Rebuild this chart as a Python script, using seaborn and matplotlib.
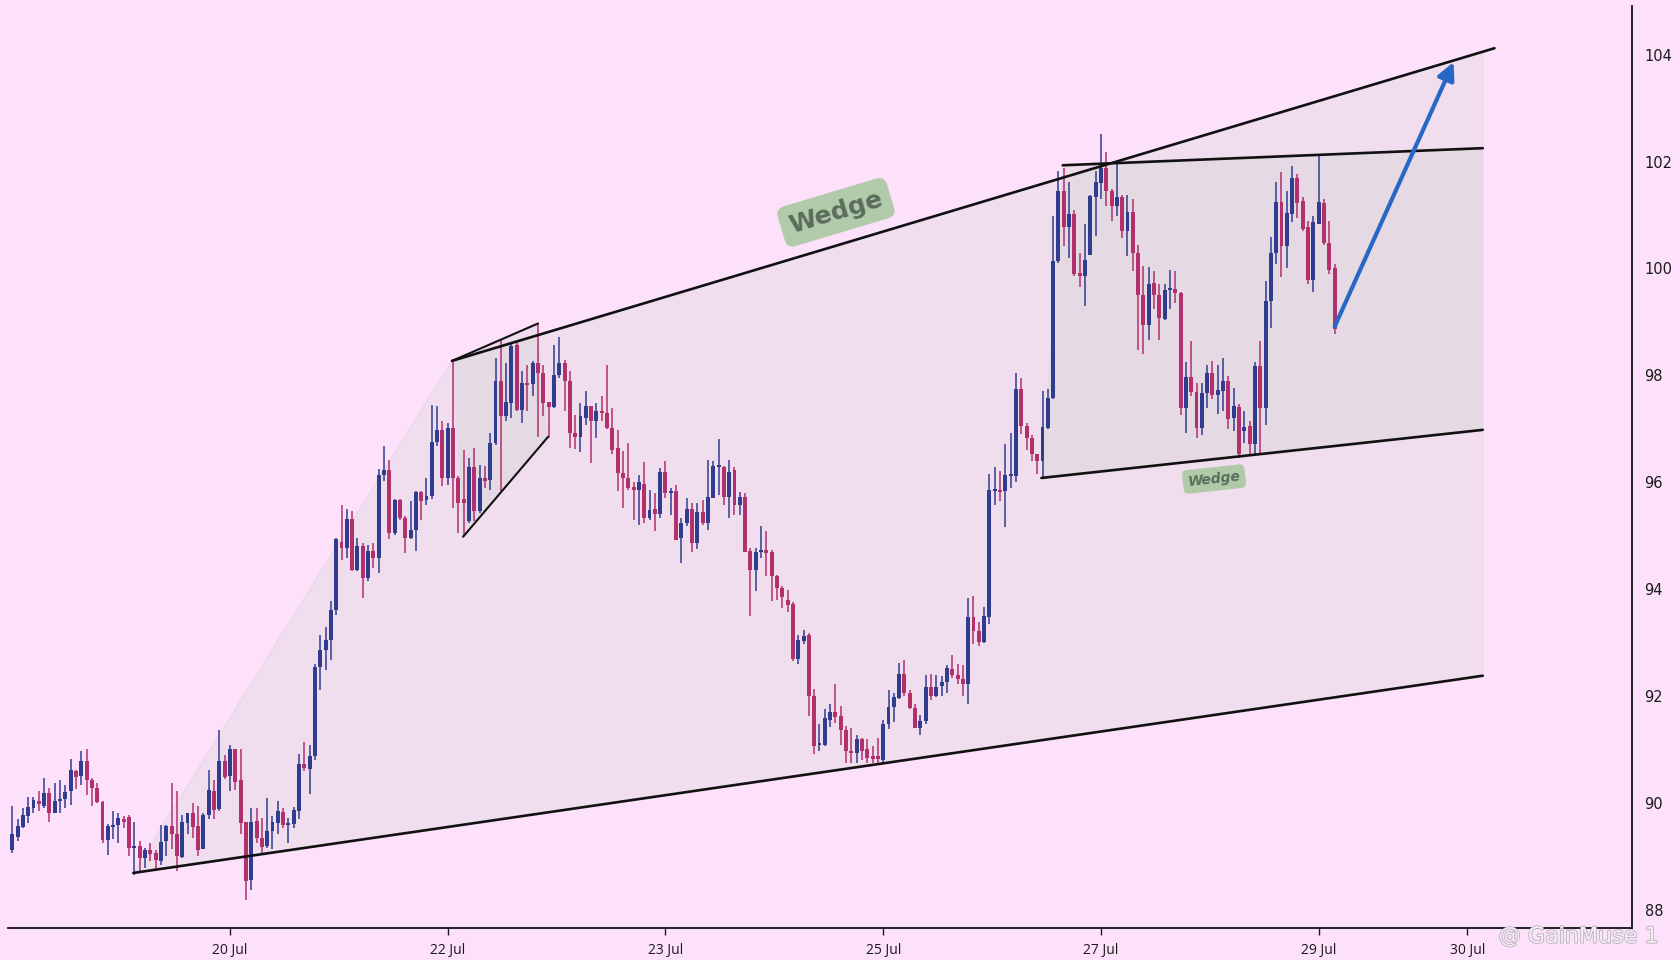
import numpy as np
import pandas as pd
import matplotlib
matplotlib.use("Agg")
import matplotlib.pyplot as plt
from matplotlib.patches import Polygon
import matplotlib.patheffects as pe
import seaborn as sns

# candle data, one entry per bar
opens = [89.11, 89.37, 89.55, 89.75, 89.90, 90.04, 89.95, 90.19, 89.81, 90.03,
         90.07, 90.22, 90.60, 90.50, 90.79, 90.43, 90.28, 90.01, 89.31, 89.55,
         89.59, 89.69, 89.73, 89.16, 89.19, 88.97, 89.11, 89.06, 88.92, 89.28,
         89.57, 89.42, 88.98, 89.62, 89.82, 89.56, 89.14, 89.77, 90.23, 89.89,
         90.79, 90.50, 91.00, 90.43, 89.65, 88.56, 89.67, 89.34, 89.19, 89.48,
         89.62, 89.83, 89.59, 89.60, 89.84, 90.73, 90.64, 90.87, 92.55, 92.87,
         93.05, 93.61, 94.88, 94.77, 95.32, 94.36, 94.80, 94.21, 94.72, 94.58,
         96.14, 96.22, 95.05, 95.66, 95.33, 94.96, 95.11, 95.82, 95.67, 95.74,
         96.75, 96.97, 96.08, 97.02, 96.08, 95.69, 95.27, 96.28, 95.46, 96.08,
         96.05, 96.74, 97.90, 97.24, 97.48, 98.56, 97.36, 97.86, 97.83, 98.23,
         98.04, 97.51, 97.40, 98.01, 98.23, 97.89, 96.92, 96.84, 97.21, 97.42,
         97.14, 97.34, 97.29, 97.01, 96.64, 96.17, 96.08, 95.92, 95.86, 95.97,
         95.34, 95.50, 95.40, 96.20, 95.80, 95.83, 94.95, 95.23, 95.50, 94.86,
         95.45, 95.23, 95.70, 96.28, 96.28, 95.73, 96.23, 95.57, 95.72, 94.72,
         94.36, 94.70, 94.74, 94.69, 94.24, 94.03, 93.80, 93.73, 92.69, 93.03,
         93.14, 92.00, 91.08, 91.08, 91.56, 91.70, 91.62, 91.37, 90.97, 90.94,
         91.19, 91.00, 90.86, 90.86, 90.81, 91.47, 91.80, 91.97, 92.42, 92.06,
         91.78, 91.41, 91.53, 92.17, 92.00, 92.19, 92.27, 92.50, 92.40, 92.31,
         92.23, 93.48, 93.22, 93.02, 93.47, 95.84, 95.85, 95.84, 96.11, 96.11,
         97.75, 97.05, 96.83, 96.52, 96.39, 97.02, 97.57, 100.13, 101.45, 100.77,
         101.01, 99.92, 99.86, 100.26, 101.33, 101.60, 101.88, 101.45, 101.17, 101.34,
         100.70, 101.06, 100.29, 99.51, 98.95, 99.72, 99.51, 99.05, 99.59, 99.61,
         99.54, 97.38, 97.97, 97.69, 97.01, 97.67, 98.05, 97.64, 97.71, 97.89,
         97.21, 97.41, 96.96, 97.05, 96.71, 98.17, 97.39, 99.39, 100.28, 101.25,
         100.42, 101.02, 101.69, 101.26, 100.77, 99.78, 100.84, 101.23, 100.48, 100.01]
highs = [89.94, 89.69, 89.90, 90.12, 90.12, 90.22, 90.47, 90.28, 90.37, 90.42,
         90.34, 90.82, 90.62, 90.98, 91.01, 90.47, 90.37, 90.03, 89.60, 89.84,
         89.81, 89.76, 89.77, 89.65, 89.28, 89.16, 89.25, 89.12, 89.59, 89.59,
         90.37, 90.22, 89.77, 89.82, 90.00, 89.95, 89.81, 90.62, 90.43, 91.37,
         90.90, 91.08, 91.01, 91.00, 89.65, 89.90, 89.90, 89.72, 90.09, 89.75,
         90.04, 89.90, 89.72, 89.92, 90.92, 91.14, 91.09, 92.60, 93.15, 93.30,
         93.77, 94.96, 95.58, 95.49, 95.46, 94.96, 94.86, 94.83, 94.86, 96.24,
         96.67, 96.42, 95.68, 95.68, 95.36, 95.64, 95.83, 95.83, 96.07, 97.45,
         97.42, 97.14, 97.10, 98.25, 96.11, 96.61, 96.46, 96.64, 96.33, 96.30,
         96.92, 98.33, 98.67, 98.23, 98.61, 98.61, 98.08, 98.20, 98.27, 98.97,
         98.20, 97.51, 98.56, 98.71, 98.29, 98.09, 97.26, 97.48, 97.70, 97.42,
         97.48, 97.61, 98.19, 97.38, 96.98, 96.59, 96.73, 96.01, 96.13, 96.37,
         95.86, 95.80, 96.26, 96.40, 95.89, 95.95, 95.33, 95.70, 95.61, 95.61,
         95.67, 96.42, 96.39, 96.81, 96.30, 96.42, 96.28, 95.82, 95.80, 94.77,
         94.77, 95.19, 95.09, 94.74, 94.27, 94.05, 93.99, 93.75, 93.15, 93.23,
         93.17, 92.14, 91.48, 91.75, 91.86, 92.22, 91.81, 91.44, 91.41, 91.27,
         91.22, 91.19, 91.06, 91.21, 91.56, 92.12, 92.06, 92.62, 92.67, 92.11,
         91.86, 91.64, 92.39, 92.42, 92.39, 92.37, 92.58, 92.77, 92.59, 92.58,
         93.84, 93.87, 93.39, 93.67, 96.15, 96.28, 96.21, 96.71, 96.93, 98.05,
         97.95, 97.10, 96.89, 96.52, 97.70, 97.74, 100.98, 101.82, 101.88, 101.62,
         101.09, 100.29, 100.84, 101.38, 101.82, 102.52, 102.18, 101.48, 101.98, 101.38,
         101.37, 101.29, 100.44, 100.04, 100.03, 99.96, 99.70, 99.70, 99.98, 99.95,
         99.56, 98.25, 98.64, 97.86, 97.86, 98.20, 98.27, 98.20, 98.33, 97.99,
         97.77, 97.46, 97.34, 97.14, 98.25, 98.64, 99.76, 100.58, 101.61, 101.81,
         101.44, 101.92, 101.76, 101.34, 100.89, 100.98, 102.14, 101.29, 100.89, 100.09]
lows = [89.06, 89.28, 89.53, 89.62, 89.81, 89.85, 89.90, 89.64, 89.81, 89.81,
        89.90, 89.97, 90.26, 90.34, 90.15, 89.94, 90.00, 89.25, 89.03, 89.32,
        89.25, 89.53, 89.00, 88.66, 88.72, 88.78, 88.91, 88.75, 88.84, 89.00,
        89.14, 88.72, 88.97, 89.42, 89.34, 89.00, 89.14, 89.70, 89.69, 89.84,
        90.45, 90.22, 90.25, 89.41, 88.19, 88.38, 89.25, 89.06, 89.16, 89.14,
        89.41, 89.53, 89.25, 89.53, 89.69, 90.59, 90.17, 90.80, 92.12, 92.49,
        92.68, 93.52, 94.55, 94.58, 94.33, 94.33, 93.83, 94.15, 94.40, 94.30,
        96.02, 94.93, 95.02, 95.30, 94.68, 94.93, 94.71, 95.30, 95.58, 95.68,
        96.67, 95.93, 95.95, 95.51, 95.05, 94.99, 95.24, 95.27, 95.43, 95.89,
        95.86, 96.70, 95.83, 97.14, 97.20, 97.33, 97.11, 97.33, 97.61, 96.85,
        97.23, 96.83, 97.38, 97.95, 97.33, 96.64, 96.63, 96.56, 97.08, 96.36,
        96.83, 97.14, 97.00, 96.53, 95.83, 95.52, 95.86, 95.30, 95.20, 95.24,
        95.30, 95.09, 95.33, 95.70, 95.39, 94.92, 94.49, 95.19, 94.69, 94.75,
        95.20, 95.11, 95.70, 95.77, 95.58, 95.33, 95.39, 95.39, 94.69, 93.49,
        93.96, 94.58, 94.24, 93.77, 93.80, 93.64, 93.58, 92.65, 92.60, 92.97,
        91.62, 90.91, 90.97, 91.06, 91.42, 91.50, 91.09, 90.75, 90.75, 90.75,
        90.81, 90.75, 90.75, 90.75, 90.77, 91.39, 91.52, 91.94, 92.00, 91.75,
        91.41, 91.27, 91.47, 91.92, 91.98, 92.00, 92.06, 92.33, 92.22, 92.00,
        91.86, 92.97, 92.93, 93.00, 93.34, 95.57, 95.65, 95.16, 95.90, 96.00,
        96.90, 96.60, 96.39, 96.15, 96.08, 96.99, 97.55, 100.11, 100.42, 100.20,
        99.86, 99.65, 99.29, 100.26, 100.60, 101.29, 101.17, 100.89, 100.98, 100.57,
        100.23, 99.95, 98.48, 98.39, 98.67, 99.25, 98.67, 99.03, 99.25, 99.36,
        97.25, 96.92, 97.61, 96.82, 96.89, 97.39, 97.55, 97.27, 97.33, 96.99,
        96.96, 96.46, 96.74, 96.52, 96.53, 96.52, 97.08, 98.89, 100.08, 99.84,
        100.01, 100.86, 100.95, 100.70, 99.71, 99.56, 100.84, 100.44, 99.89, 98.77]
closes = [89.41, 89.56, 89.77, 89.92, 90.06, 89.98, 90.19, 89.81, 90.04, 90.08,
          90.20, 90.62, 90.48, 90.79, 90.43, 90.27, 90.02, 89.30, 89.57, 89.58,
          89.72, 89.64, 89.16, 89.19, 88.97, 89.12, 89.04, 88.94, 89.26, 89.57,
          89.41, 89.00, 89.64, 89.82, 89.55, 89.12, 89.78, 90.24, 89.87, 90.79,
          90.48, 91.00, 90.40, 89.62, 88.53, 89.65, 89.34, 89.17, 89.48, 89.64,
          89.84, 89.59, 89.62, 89.86, 90.73, 90.65, 90.87, 92.55, 92.87, 93.05,
          93.61, 94.93, 94.77, 95.32, 94.36, 94.80, 94.21, 94.72, 94.58, 96.14,
          96.22, 95.05, 95.66, 95.33, 94.96, 95.11, 95.82, 95.64, 95.75, 96.75,
          96.97, 96.08, 97.02, 96.08, 95.61, 95.61, 96.28, 95.46, 96.08, 96.03,
          96.74, 97.89, 97.24, 97.50, 98.55, 97.36, 97.86, 97.82, 98.23, 98.05,
          97.48, 97.40, 98.01, 98.23, 97.89, 96.92, 96.84, 97.23, 97.42, 97.14,
          97.34, 97.29, 97.01, 96.61, 96.17, 96.08, 95.90, 95.86, 96.00, 95.34,
          95.48, 95.40, 96.20, 95.80, 95.83, 94.92, 95.23, 95.50, 94.86, 95.45,
          95.23, 95.73, 96.30, 96.31, 95.73, 96.20, 95.57, 95.72, 94.70, 94.36,
          94.69, 94.74, 94.67, 94.24, 94.02, 93.86, 93.71, 92.69, 93.04, 93.12,
          92.00, 91.06, 91.13, 91.58, 91.70, 91.60, 91.37, 90.97, 90.94, 91.19,
          90.98, 90.84, 90.83, 90.83, 91.47, 91.80, 91.98, 92.42, 92.06, 91.77,
          91.41, 91.54, 92.17, 92.00, 92.17, 92.27, 92.52, 92.40, 92.31, 92.22,
          93.48, 93.22, 93.02, 93.50, 95.85, 95.85, 95.82, 96.13, 96.13, 97.75,
          97.05, 96.83, 96.52, 96.39, 97.03, 97.58, 100.14, 101.45, 100.77, 101.01,
          99.89, 99.86, 100.15, 101.35, 101.62, 101.88, 101.45, 101.17, 101.34, 100.70,
          101.06, 100.29, 99.51, 98.95, 99.70, 99.50, 99.07, 99.59, 99.60, 99.54,
          97.38, 97.97, 97.69, 97.01, 97.67, 98.05, 97.64, 97.72, 97.89, 97.19,
          97.43, 96.52, 97.03, 96.72, 98.17, 97.39, 99.39, 100.28, 101.25, 100.42,
          101.04, 101.69, 101.23, 100.73, 99.78, 100.86, 101.25, 100.48, 99.98, 98.86]

tick_bars = [41, 82, 123, 164, 205, 246, 274]
tick_labels = ["20 Jul", "22 Jul", "23 Jul", "25 Jul", "27 Jul", "29 Jul", "30 Jul"]

# drawn objects as (bar index, price) points
wedge_lower = [(22.8, 88.69), (276.9, 92.38)]
wedge_upper = [(82.8, 98.27), (279.1, 104.12)]
flag_top = [(82.8, 98.27), (99.0, 98.97)]
flag_bottom = [(84.9, 94.98), (100.9, 96.85)]
right_top = [(197.8, 101.93), (276.9, 102.25)]
right_bottom = [(193.8, 96.08), (276.9, 96.98)]
arrow_from = (249.0, 98.91)
arrow_to = (271.4, 103.86)

BG = "#fde1fb"
BLUE = "#303d8e"
RED = "#b2306b"

sns.set_theme(style="ticks", rc={"axes.facecolor": BG, "figure.facecolor": BG})
plt.rcParams["font.family"] = ["DejaVu Sans"]

fig = plt.figure(figsize=(16.8, 9.6), dpi=100)
ax = fig.add_axes([8 / 1680, 32 / 960, 1624 / 1680, 922 / 960])
ax.set_xlim(-0.8, 305.0)
ax.set_ylim(87.66, 104.91)

df = pd.DataFrame({"open": opens, "high": highs, "low": lows, "close": closes})
df["bar"] = np.arange(len(df))
colors = np.where(df["close"] >= df["open"], BLUE, RED)


def line_at(pts, x):
    (x0, y0), (x1, y1) = pts
    return y0 + (y1 - y0) * (x - x0) / (x1 - x0)


# shaded areas
x_end = wedge_lower[1][0]
big_poly = [wedge_lower[0], wedge_upper[0], (x_end, line_at(wedge_upper, x_end)), wedge_lower[1]]
flag_poly = [flag_top[0], flag_top[1], flag_bottom[1], flag_bottom[0]]
right_poly = [right_bottom[0], right_top[0], right_top[1], right_bottom[1]]
ax.add_patch(Polygon(big_poly, closed=True, facecolor="#d8d8d8", alpha=0.35,
                     edgecolor="#d6cdd6", lw=1, zorder=1))
for poly in (flag_poly, right_poly):
    ax.add_patch(Polygon(poly, closed=True, facecolor="#d2d2d2", alpha=0.35,
                         edgecolor="none", zorder=1))

# candles
ax.vlines(df["bar"], df["low"], df["high"], colors=colors, lw=1.1, zorder=3)
body_lo = df[["open", "close"]].min(axis=1)
body_h = (df["close"] - df["open"]).abs().clip(lower=0.04)
ax.bar(df["bar"], body_h, bottom=body_lo, width=0.74, color=colors, linewidth=0, zorder=4)

# trend lines
for pts, lw in [(wedge_lower, 1.9), (wedge_upper, 1.9), (flag_top, 1.5), (flag_bottom, 1.5),
                (right_top, 1.9), (right_bottom, 1.9)]:
    sns.lineplot(x=[pts[0][0], pts[1][0]], y=[pts[0][1], pts[1][1]], ax=ax,
                 color="#111111", lw=lw, zorder=5)

ax.annotate("", xy=arrow_to, xytext=arrow_from,
            arrowprops=dict(arrowstyle="-|>", color="#2767c6", lw=3.0,
                            mutation_scale=26, shrinkA=0, shrinkB=0), zorder=6)


def pixel_angle(pts):
    p0 = ax.transData.transform(pts[0])
    p1 = ax.transData.transform(pts[1])
    return np.degrees(np.arctan2(p1[1] - p0[1], p1[0] - p0[0]))


ax.text(155.1, 101.05, "Wedge", fontsize=18, fontweight="bold", color="#5b6d5b",
        rotation=pixel_angle(wedge_upper), rotation_mode="anchor", ha="center", va="center",
        zorder=7, bbox=dict(boxstyle="round,pad=0.35", facecolor="#a9c8a1", edgecolor="none", alpha=0.9))
ax.text(226.3, 96.06, "Wedge", fontsize=10, fontweight="bold", fontstyle="italic", color="#5b6d5b",
        rotation=pixel_angle(right_bottom), rotation_mode="anchor", ha="center", va="center",
        zorder=7, bbox=dict(boxstyle="round,pad=0.35", facecolor="#a9c8a1", edgecolor="none", alpha=0.9))

# axes styling
ax.yaxis.tick_right()
ax.set_yticks(np.arange(88, 105, 2))
ax.set_xticks(tick_bars)
ax.set_xticklabels(tick_labels)
ax.tick_params(axis="y", labelsize=10.5, length=5, width=1, colors="#1a1a1a", pad=4)
ax.tick_params(axis="x", labelsize=10, length=5, width=1, colors="#1a1a1a", pad=6)
for lbl in ax.get_xticklabels():
    lbl.set_family(["Open Sans", "DejaVu Sans"])
ax.grid(False)
sns.despine(ax=ax, left=True, top=True, right=False, bottom=False)
for side in ("right", "bottom"):
    ax.spines[side].set_color("#111111")
    ax.spines[side].set_linewidth(1.3)
ax.set_xlabel("")
ax.set_ylabel("")

fig.text(0.892, 0.018, "@ GainMuse 1", fontsize=16, color="#f6eef6",
         path_effects=[pe.withStroke(linewidth=1.2, foreground="#b8b0b8")])

fig.savefig("out.png", dpi=100, facecolor=BG)
